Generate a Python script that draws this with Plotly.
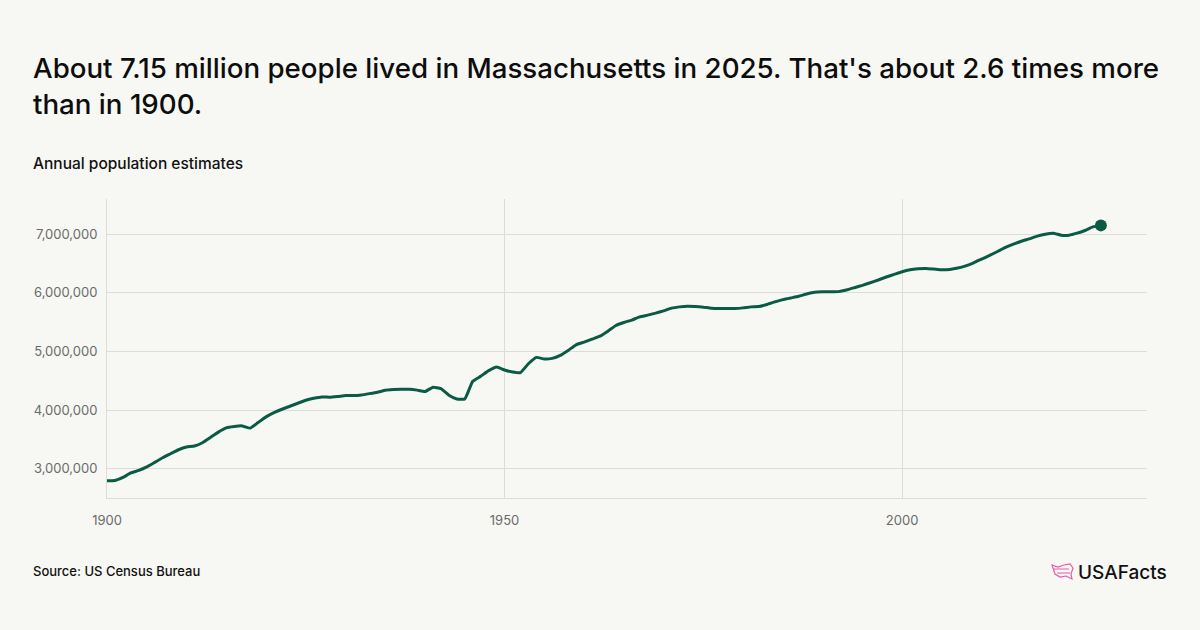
import plotly.graph_objects as go

years = list(range(1900, 2026))
population = [
    2.796, 2.800, 2.852, 2.927, 2.970, 3.030, 3.107, 3.187, 3.255, 3.323,
    3.369, 3.386, 3.442, 3.532, 3.624, 3.697, 3.720, 3.730, 3.692, 3.787,
    3.884, 3.957, 4.014, 4.065, 4.116, 4.167, 4.200, 4.224, 4.218, 4.230,
    4.247, 4.247, 4.258, 4.280, 4.304, 4.337, 4.349, 4.355, 4.355, 4.340,
    4.315, 4.390, 4.366, 4.253, 4.190, 4.190, 4.490, 4.576, 4.672, 4.735,
    4.684, 4.650, 4.638, 4.790, 4.898, 4.870, 4.881, 4.932, 5.017, 5.113,
    5.159, 5.210, 5.261, 5.346, 5.443, 5.494, 5.534, 5.590, 5.619, 5.653,
    5.692, 5.738, 5.760, 5.772, 5.766, 5.755, 5.738, 5.732, 5.732, 5.732,
    5.743, 5.760, 5.766, 5.800, 5.845, 5.883, 5.912, 5.940, 5.980, 6.010,
    6.016, 6.016, 6.020, 6.048, 6.087, 6.127, 6.172, 6.218, 6.269, 6.314,
    6.359, 6.393, 6.410, 6.416, 6.405, 6.393, 6.399, 6.422, 6.460, 6.512,
    6.575, 6.637, 6.705, 6.773, 6.830, 6.880, 6.920, 6.966, 7.000, 7.017,
    6.983, 6.983, 7.017, 7.063, 7.124, 7.150,
]
population = [round(v * 1_000_000) for v in population]

x_ticks = [1900, 1950, 2000]
y_ticks = [3_000_000, 4_000_000, 5_000_000, 6_000_000, 7_000_000]

title = "About 7.15 million people lived in Massachusetts in 2025. That's about 2.6 times more<br>than in 1900."
subtitle = "Annual population estimates"
source = "Source: US Census Bureau"

GREEN = "#0a5a45"
BG = "#f7f7f3"
GRID = "#dcdcd8"
FONT = "Inter"

fig = go.Figure()
fig.add_trace(go.Scatter(
    x=years, y=population, mode="lines",
    line=dict(color=GREEN, width=3, shape="spline", smoothing=0.4),
    hoverinfo="skip", showlegend=False,
))
fig.add_trace(go.Scatter(
    x=[years[-1]], y=[population[-1]], mode="markers",
    marker=dict(color=GREEN, size=12),
    hoverinfo="skip", showlegend=False,
))

fig.update_layout(
    width=1200, height=630,
    paper_bgcolor=BG, plot_bgcolor=BG,
    margin=dict(l=107, r=53, t=199, b=132),
    font=dict(family=FONT, color="#111"),
    xaxis=dict(
        range=[1900, 2030.8], tickvals=x_ticks, ticktext=[str(t) for t in x_ticks],
        showgrid=True, gridcolor=GRID, gridwidth=1,
        showline=True, linecolor=GRID, linewidth=1, mirror=False,
        zeroline=False, ticks="", ticklen=0, ticklabelstandoff=10,
        tickfont=dict(family=FONT, size=13, color="#6b6b6b"),
    ),
    yaxis=dict(
        range=[2_500_000, 7_600_000], tickvals=y_ticks,
        ticktext=[f"{v:,}" for v in y_ticks],
        showgrid=True, gridcolor=GRID, gridwidth=1,
        showline=True, linecolor=GRID, linewidth=1,
        zeroline=False, ticks="", ticklen=0, ticklabelstandoff=6,
        tickfont=dict(family=FONT, size=13, color="#6b6b6b"),
    ),
)

# Convert pixel positions to paper coordinates
L, R, T, B = 107, 1147, 199, 498
def px(x):
    return (x - L) / (R - L)
def py(y):
    return (B - y) / (B - T)

fig.add_annotation(text=title, x=px(31), y=py(49), xref="paper", yref="paper",
                   xanchor="left", yanchor="top", align="left", showarrow=False,
                   font=dict(family=FONT, size=27.7, color="#0d0d0d", weight=500))
fig.add_annotation(text=subtitle, x=px(31), y=py(163), xref="paper", yref="paper",
                   xanchor="left", yanchor="middle", align="left", showarrow=False,
                   font=dict(family=FONT, size=15.5, color="#111", weight=500))
fig.add_annotation(text=source, x=px(31), y=py(571), xref="paper", yref="paper",
                   xanchor="left", yanchor="middle", align="left", showarrow=False,
                   font=dict(family=FONT, size=13, color="#111", weight=500))
fig.add_annotation(text="USAFacts", x=px(1169), y=py(572), xref="paper", yref="paper",
                   xanchor="right", yanchor="middle", align="right", showarrow=False,
                   font=dict(family=FONT, size=19, color="#111", weight=500))

# Pink USA map-ish logo outline
def pt(x, y):
    return f"{px(x):.5f} {py(y):.5f}"
path = ("M " + pt(1052, 565) + " L " + pt(1058, 567) + " L " + pt(1064, 565) + " L " + pt(1070, 564)
        + " L " + pt(1073, 568) + " L " + pt(1071, 574) + " L " + pt(1072, 579) + " L " + pt(1066, 576)
        + " L " + pt(1060, 577) + " L " + pt(1055, 574) + " Z")
fig.add_shape(type="path", path=path, xref="paper", yref="paper",
              line=dict(color="#e85aa8", width=1.2), fillcolor="rgba(0,0,0,0)")
fig.add_shape(type="path",
              path="M " + pt(1054, 569) + " L " + pt(1069, 569) + " M " + pt(1057, 573) + " L " + pt(1070, 573),
              xref="paper", yref="paper", line=dict(color="#e85aa8", width=1))

fig.write_html("out.html")
